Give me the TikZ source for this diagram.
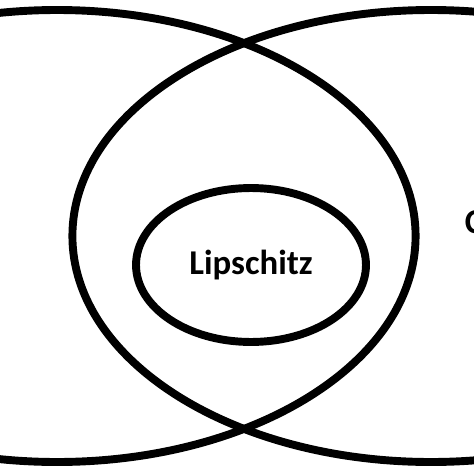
\documentclass[tikz,border=0pt]{standalone}
\usepackage{fontspec}
\setmainfont{Carlito}
\usetikzlibrary{shapes.geometric}

\begin{document}
\begin{tikzpicture}[x=0.02cm,y=-0.02cm,line width=4.5pt,
    every node/.style={font=\fontsize{19.8}{24}\selectfont\bfseries}]
    \useasboundingbox (0,0) rectangle (474,474);
    \clip (0,0) rectangle (474,474);
    % the two large sets, cut by the frame
    \draw (57,236) ellipse [x radius=358.6,y radius=226];
    \draw (431,236) ellipse [x radius=358.6,y radius=226];
    \node[draw,ellipse,minimum width=4.6cm,minimum height=3.08cm,
          inner sep=0pt] (lip) at (251,265) {Lipschitz};
    \node[anchor=west,inner sep=0pt] (cont) at (461,222) {C};
  \end{tikzpicture}
\end{document}
